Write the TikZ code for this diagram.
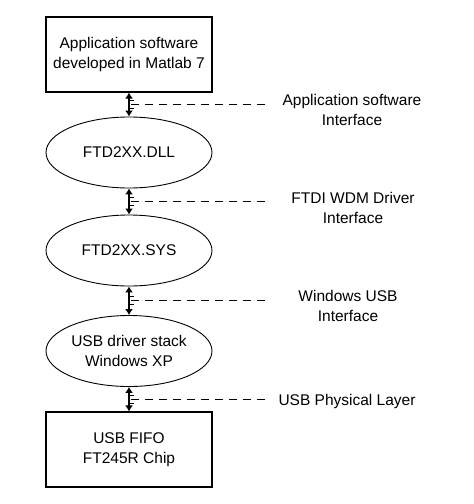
\documentclass[tikz,border=0pt]{standalone}
\usepackage{fontspec}
\setmainfont{Liberation Sans}
\usetikzlibrary{shapes.geometric,arrows.meta,calc}
\begin{document}
\begin{tikzpicture}[x=1pt,y=-1pt,
  txt/.style={font=\fontsize{15.5}{20}\selectfont, align=center, inner sep=0pt},
  blockbox/.style={draw, line width=1.2pt, minimum width=166pt, minimum height=75pt, txt},
  blockell/.style={draw, ellipse, line width=0.9pt, minimum width=166pt, minimum height=71pt, txt},
  biarrow/.style={line width=1.1pt, {Latex[length=6pt,width=8pt]}-{Latex[length=6pt,width=8pt]}},
  iface/.style={dashed, dash pattern=on 8pt off 6pt, line width=1pt},
  tick/.style={line width=1pt}]
\useasboundingbox (0,0) rectangle (474,504);
\node[blockbox] (app) at (129,54.5) {Application software\\developed in Matlab 7};
\node[blockell] (dll) at (129,152.5) {FTD2XX.DLL};
\node[blockell] (sys) at (129,250.5) {FTD2XX.SYS};
\node[blockell] (stack) at (129,351) {USB driver stack\\Windows XP};
\node[blockbox] (chip) at (129,449.5) {USB FIFO\\FT245R Chip};
\node[txt] (l1) at (352,110) {Application software\\Interface};
\node[txt] (l2) at (353,208) {FTDI WDM Driver\\Interface};
\node[txt] (l3) at (348,306) {Windows USB\\Interface};
\node[txt] (l4) at (347,401) {USB Physical Layer};
\coordinate (dashend) at (265,0);
\draw[biarrow] (app.south) -- (dll.north);
\draw[biarrow] (dll.south) -- (sys.north);
\draw[biarrow] (sys.south) -- (stack.north);
\draw[biarrow] (stack.south) -- (chip.north);
\coordinate (m1) at ($(app.south)!0.5!(dll.north)$);
\coordinate (m2) at ($(dll.south)!0.5!(sys.north)$);
\coordinate (m3) at ($(sys.south)!0.5!(stack.north)$);
\coordinate (m4) at ($(stack.south)!0.5!(chip.north)$);
\foreach \m in {m1,m2,m3,m4}{
  \draw[iface] ($(\m)+(2,0)$) -- (\m -| dashend);
  \draw[tick] ($(\m)+(0,-4)$) -- ++(5,0);
  \draw[tick] ($(\m)+(0,4)$) -- ++(5,0);
}
\end{tikzpicture}
\end{document}
